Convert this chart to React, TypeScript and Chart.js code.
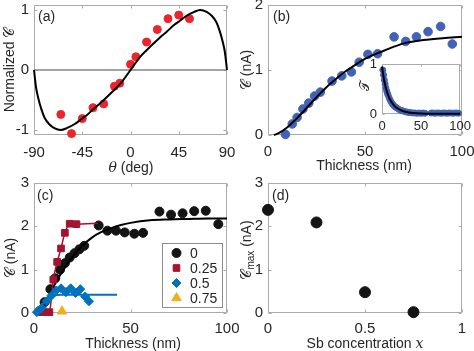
import React, { useEffect, useRef } from 'react';
import { Chart, registerables } from 'chart.js';
import { drawPoint } from 'chart.js/helpers';

Chart.register(...registerables);

if (typeof document !== 'undefined') document.body.style.margin = '0';

const FONT = '"Liberation Sans", Arial, Helvetica, sans-serif';
const SERIF = '"DejaVu Serif", "Liberation Serif", serif';
const TEXT = '#262626';
const AXIS = '#aaaaaa';
const RED = '#ea262c';
const BLUE_B = '#4262b5';
const BLACK = '#141414';
const DARKRED = '#a2142f';
const MBLUE = '#0072bd';
const YELLOW = '#edb120';

// ---------- Panel (a) ----------
const aTicksX = [-90, -45, 0, 45, 90];
const aTicksY = [-1, 0, 1];
const aThetaDots = [-65, -55, -45, -35, -25, -15, -10, 0, 5, 15, 25, 35, 45, 55];
const aNormDots = [-0.74, -1.06, -0.81, -0.63, -0.565, -0.27, -0.22, 0.095, 0.22, 0.465, 0.675, 0.855, 0.915, 0.855];
const aThetaFit = [-90, -88, -86, -83, -80, -76, -71, -65, -59, -52, -46, -40, -34, -28, -22, -15, -9, -3, 0, 3, 9, 15, 22, 28, 34, 40, 46, 52, 59, 65, 71, 76, 80, 83, 86, 88, 90];
const aNormFit = [0, -0.3, -0.47, -0.66, -0.8, -0.9, -0.97, -1.0, -0.965, -0.9, -0.82, -0.74, -0.64, -0.55, -0.45, -0.33, -0.22, -0.075, 0, 0.075, 0.22, 0.33, 0.45, 0.55, 0.64, 0.74, 0.82, 0.9, 0.965, 1.0, 0.97, 0.9, 0.8, 0.66, 0.47, 0.3, 0];
const aZeroX = [-90, 90];
const aZeroY = [0, 0];

// ---------- Panel (b) ----------
const bTicksX = [0, 50, 100];
const bTicksY = [0, 1, 2];
const bThick = [9, 12.5, 15, 18, 21, 24, 27, 33, 38, 43, 47, 51.5, 56.5, 65, 71, 76.5, 82.5, 89, 95];
const bCurrent = [0.01, 0.17, 0.27, 0.4, 0.49, 0.6, 0.66, 0.83, 0.91, 0.97, 1.12, 1.24, 1.25, 1.51, 1.44, 1.51, 1.59, 1.67, 1.4];
const bThickFit = [3, 5, 10, 15, 20, 25, 30, 35, 40, 45, 50, 55, 60, 70, 80, 90, 100];
const bCurrentFit = [0, 0.02, 0.12, 0.26, 0.42, 0.58, 0.73, 0.86, 0.98, 1.08, 1.17, 1.24, 1.3, 1.41, 1.46, 1.49, 1.51];

// ---------- Inset of (b) ----------
const iTicksX = [0, 50, 100];
const iTicksY = [0, 1];
const iThick = [1, 2, 3, 4, 5, 6, 7, 8, 9.5, 11, 12.5, 14, 15.5, 17, 19, 21, 23, 25, 27, 29, 31, 33, 35, 37.5, 40, 42.5, 45, 47.5, 50, 52.5, 55, 63, 65.5, 68, 70.5, 73, 75.5, 78, 80.5, 83, 85.5, 88, 90.5, 93, 95.5, 98];
const iTrans = [0.88, 0.78, 0.68, 0.6, 0.52, 0.46, 0.41, 0.37, 0.31, 0.26, 0.22, 0.19, 0.16, 0.14, 0.12, 0.1, 0.08, 0.07, 0.06, 0.05, 0.04, 0.035, 0.03, 0.025, 0.02, 0.02, 0.015, 0.02, 0.015, 0.02, 0.015, 0.02, 0.02, 0.015, 0.02, 0.02, 0.015, 0.02, 0.02, 0.015, 0.02, 0.02, 0.015, 0.02, 0.02, 0.015];
const iThickFit = [0, 2, 4, 6, 8, 10, 13, 16, 20, 25, 30, 40, 50, 70, 100];
const iTransFit = [0.95, 0.74, 0.58, 0.46, 0.37, 0.3, 0.22, 0.16, 0.11, 0.07, 0.045, 0.02, 0.01, 0.005, 0.003];

// ---------- Panel (c) ----------
const cTicksX = [0, 50, 100];
const cTicksY = [0, 1, 2, 3];
const cLegendLabels = ['0', '0.25', '0.5', '0.75'];
const cThick0 = [3, 5.5, 8.5, 11, 13.5, 16, 18.5, 21, 23.5, 26, 33.5, 38, 42.5, 47, 52, 56.5, 65, 71, 77, 83, 89, 95.5];
const cCurrent0 = [0.05, 0.25, 0.55, 0.8, 1.0, 1.15, 1.28, 1.38, 1.47, 1.55, 2.02, 1.9, 1.9, 1.86, 1.83, 1.85, 2.34, 2.27, 2.3, 2.35, 2.36, 2.05];
const cThick0Fit = [3, 5, 8, 11, 15, 20, 25, 30, 35, 40, 45, 50, 60, 70, 80, 90, 100];
const cCurrent0Fit = [0, 0.15, 0.42, 0.68, 0.98, 1.3, 1.55, 1.74, 1.87, 1.96, 2.03, 2.08, 2.14, 2.16, 2.17, 2.18, 2.18];
const cThick25 = [5, 8, 10, 12, 14, 16, 18.5, 22];
const cCurrent25 = [0.02, 0.02, 0.77, 1.18, 1.49, 1.85, 2.06, 2.05];
const cThick25Line = [5, 8, 10, 12, 14, 16, 18.5, 22, 33];
const cCurrent25Line = [0.02, 0.02, 0.77, 1.18, 1.49, 1.85, 2.06, 2.05, 2.07];
const cThick50 = [1.5, 4, 6.5, 9, 11.5, 14, 16.5, 19, 21.5, 24, 26.5, 28.5];
const cCurrent50 = [0.02, 0.12, 0.27, 0.4, 0.52, 0.57, 0.48, 0.57, 0.46, 0.55, 0.38, 0.27];
const cThick50Fit = [1, 4, 7, 10, 14, 43];
const cCurrent50Fit = [0, 0.18, 0.33, 0.4, 0.42, 0.42];
const cThick75 = [14.5];
const cCurrent75 = [0.04];

// ---------- Panel (d) ----------
const dTicksX = [0, 0.5, 1];
const dTicksY = [0, 1, 2, 3];
const dSb = [0, 0.25, 0.5, 0.75];
const dCmax = [2.38, 2.09, 0.48, 0.02];

const zip = (xs: number[], ys: number[]) => xs.map((x, i) => ({ x, y: ys[i] }));

type Rect = { l: number; t: number; r: number; b: number };
type Seg = { t: string; it?: boolean; sub?: boolean; serif?: boolean };
type TextItem = { x: number; y: number; segs: Seg[]; size?: number; rot?: boolean; align?: 'left' | 'center' };
type LegendSpec = {
  box: Rect; rows: number[]; markerX: number; textX: number;
  items: { label: string; style: string; color: string; radius: number }[];
};
type PanelSpec = {
  key: string; canvasLeft: number; canvasTop: number; area: Rect;
  padR: number; padB: number; padT: number;
  xMin: number; xMax: number; yMin: number; yMax: number;
  xTicks: number[]; yTicks: number[]; tickSize: number; xPad: number; yPad: number;
  datasets: any[]; texts: TextItem[]; legend?: LegendSpec; white?: boolean; tickLen: number;
};

function drawRich(ctx: CanvasRenderingContext2D, it: TextItem, ox: number, oy: number) {
  const size = it.size ?? 14;
  ctx.save();
  ctx.translate(it.x - ox, it.y - oy);
  if (it.rot) ctx.rotate(-Math.PI / 2);
  const fonts = it.segs.map(s => {
    const sz = s.sub ? Math.round(size * 0.72) : size;
    const fam = s.serif ? SERIF : FONT;
    return `${s.it ? 'italic ' : ''}${sz}px ${fam}`;
  });
  const widths = it.segs.map((s, i) => { ctx.font = fonts[i]; return ctx.measureText(s.t).width; });
  const total = widths.reduce((a, b) => a + b, 0);
  let cx = it.align === 'left' ? 0 : -total / 2;
  const base = size * 0.36;
  ctx.fillStyle = TEXT;
  ctx.textBaseline = 'alphabetic';
  ctx.textAlign = 'left';
  it.segs.forEach((s, i) => {
    ctx.font = fonts[i];
    ctx.fillText(s.t, cx, s.sub ? base + size * 0.25 : base);
    cx += widths[i];
  });
  ctx.restore();
}

function makePlugins(s: PanelSpec) {
  return [{
    id: 'frame_' + s.key,
    beforeDraw(chart: any) {
      if (!s.white) return;
      const { ctx, chartArea: a } = chart;
      ctx.save();
      ctx.fillStyle = '#ffffff';
      ctx.fillRect(a.left, a.top, a.right - a.left, a.bottom - a.top);
      ctx.restore();
    },
    beforeDatasetsDraw(chart: any) {
      const { ctx, chartArea: a, scales } = chart;
      const L = Math.round(a.left) + 0.5, R = Math.round(a.right) - 0.5;
      const T = Math.round(a.top) + 0.5, B = Math.round(a.bottom) - 0.5;
      ctx.save();
      ctx.strokeStyle = AXIS;
      ctx.lineWidth = 1;
      ctx.beginPath();
      ctx.rect(L, T, R - L, B - T);
      const tl = s.tickLen;
      for (const t of s.xTicks) {
        const px = Math.round(scales.x.getPixelForValue(t)) + 0.5;
        ctx.moveTo(px, B); ctx.lineTo(px, B - tl);
        ctx.moveTo(px, T); ctx.lineTo(px, T + tl);
      }
      for (const t of s.yTicks) {
        const py = Math.round(scales.y.getPixelForValue(t)) + 0.5;
        ctx.moveTo(L, py); ctx.lineTo(L + tl, py);
        ctx.moveTo(R, py); ctx.lineTo(R - tl, py);
      }
      ctx.stroke();
      ctx.restore();
    },
    afterDraw(chart: any) {
      const ctx = chart.ctx as CanvasRenderingContext2D;
      const ox = s.canvasLeft, oy = s.canvasTop;
      if (s.legend) {
        const lg = s.legend;
        ctx.save();
        ctx.fillStyle = '#ffffff';
        ctx.strokeStyle = '#8c8c8c';
        ctx.lineWidth = 1;
        ctx.fillRect(lg.box.l - ox, lg.box.t - oy, lg.box.r - lg.box.l, lg.box.b - lg.box.t);
        ctx.strokeRect(lg.box.l - ox + 0.5, lg.box.t - oy + 0.5, lg.box.r - lg.box.l, lg.box.b - lg.box.t);
        lg.items.forEach((item, i) => {
          ctx.fillStyle = item.color;
          ctx.strokeStyle = item.color;
          ctx.lineWidth = 1;
          drawPoint(ctx, { pointStyle: item.style as any, rotation: 0, radius: item.radius, borderWidth: 1 }, lg.markerX - ox, lg.rows[i] - oy);
        });
        ctx.restore();
        lg.items.forEach((item, i) => drawRich(ctx, { x: lg.textX, y: lg.rows[i], segs: [{ t: item.label }], align: 'left', size: 14 }, ox, oy));
      }
      s.texts.forEach(t => drawRich(ctx, t, ox, oy));
    },
  }];
}

function canvasSize(s: PanelSpec) {
  return { w: s.area.r + s.padR - s.canvasLeft, h: s.area.b + s.padB - s.canvasTop };
}

function buildConfig(s: PanelSpec): any {
  const { w, h } = canvasSize(s);
  const tickFont = { family: FONT, size: s.tickSize };
  return {
    type: 'scatter',
    data: { datasets: s.datasets },
    options: {
      responsive: false,
      animation: false,
      events: [],
      layout: { padding: { left: 0, top: s.area.t - s.canvasTop, right: s.padR, bottom: 0 } },
      plugins: { legend: { display: false }, tooltip: { enabled: false } },
      scales: {
        x: {
          type: 'linear', position: 'bottom', min: s.xMin, max: s.xMax,
          grid: { display: false, drawTicks: false }, border: { display: false },
          ticks: { font: tickFont, color: TEXT, padding: s.xPad, maxRotation: 0, autoSkip: false, callback: (v: number) => String(v) },
          afterBuildTicks: (ax: any) => { ax.ticks = s.xTicks.map(v => ({ value: v })); },
          afterFit: (ax: any) => { ax.height = s.canvasTop + h - s.area.b; },
        },
        y: {
          type: 'linear', position: 'left', min: s.yMin, max: s.yMax,
          grid: { display: false, drawTicks: false }, border: { display: false },
          ticks: { font: tickFont, color: TEXT, padding: s.yPad, autoSkip: false, callback: (v: number) => String(v) },
          afterBuildTicks: (ax: any) => { ax.ticks = s.yTicks.map(v => ({ value: v })); },
          afterFit: (ax: any) => { ax.width = s.area.l - s.canvasLeft; },
        },
      },
    },
    plugins: makePlugins(s),
  };
}

const lineDs = (xs: number[], ys: number[], color: string, width: number, order: number) => ({
  data: zip(xs, ys), showLine: true, borderColor: color, borderWidth: width, pointRadius: 0,
  cubicInterpolationMode: 'monotone', order, clip: false,
});
const dotDs = (xs: number[], ys: number[], color: string, radius: number, style: string, order: number) => ({
  data: zip(xs, ys), showLine: false, pointStyle: style, pointRadius: radius,
  pointBackgroundColor: color, pointBorderColor: color, pointBorderWidth: 1, order, clip: false,
});

const specs: PanelSpec[] = [
  {
    key: 'a', canvasLeft: 0, canvasTop: -20, area: { l: 34, t: 5, r: 227, b: 135 }, padR: 25, padB: 45, padT: 25,
    xMin: -90, xMax: 90, yMin: -1.083, yMax: 1.083, xTicks: aTicksX, yTicks: aTicksY, tickSize: 15, xPad: 9, yPad: 5, tickLen: 3,
    datasets: [
      lineDs(aThetaFit, aNormFit, '#000000', 2, 1),
      dotDs(aThetaDots, aNormDots, RED, 4, 'circle', 2),
      { ...lineDs(aZeroX, aZeroY, '#858585', 1.5, 3), cubicInterpolationMode: 'default' },
    ],
    texts: [
      { x: 9, y: 70, rot: true, segs: [{ t: 'Normalized ' }, { t: '𝒞' }] },
      { x: 131, y: 167, segs: [{ t: 'θ', it: true, serif: true }, { t: ' (deg)' }] },
      { x: 38, y: 16, align: 'left', segs: [{ t: '(a)' }] },
    ],
  },
  {
    key: 'b', canvasLeft: 237, canvasTop: -20, area: { l: 268, t: 5, r: 462, b: 135 }, padR: 25, padB: 45, padT: 25,
    xMin: 0, xMax: 100, yMin: 0, yMax: 2, xTicks: bTicksX, yTicks: bTicksY, tickSize: 15, xPad: 8, yPad: 5, tickLen: 3,
    datasets: [
      lineDs(bThickFit, bCurrentFit, '#000000', 2, 1),
      dotDs(bThick, bCurrent, BLUE_B, 4.3, 'circle', 2),
    ],
    texts: [
      { x: 246, y: 70, rot: true, segs: [{ t: '𝒞' }, { t: ' (nA)' }] },
      { x: 364, y: 165, segs: [{ t: 'Thickness (nm)' }] },
      { x: 273, y: 16, align: 'left', segs: [{ t: '(b)' }] },
    ],
  },
  {
    key: 'i', canvasLeft: 358, canvasTop: 44, area: { l: 382, t: 64, r: 462, b: 114 }, padR: 14, padB: 20, padT: 20,
    xMin: 0, xMax: 100, yMin: 0, yMax: 1, xTicks: iTicksX, yTicks: iTicksY, tickSize: 13, xPad: 5, yPad: 5, tickLen: 2, white: true,
    datasets: [
      lineDs(iThickFit, iTransFit, '#000000', 2, 1),
      dotDs(iThick, iTrans, BLUE_B, 3, 'circle', 2),
    ],
    texts: [
      { x: 364.5, y: 86, rot: true, size: 13, segs: [{ t: '𝒯' }] },
    ],
  },
  {
    key: 'c', canvasLeft: 0, canvasTop: 158, area: { l: 34, t: 183, r: 227, b: 313 }, padR: 25, padB: 45, padT: 25,
    xMin: 0, xMax: 100, yMin: 0, yMax: 3, xTicks: cTicksX, yTicks: cTicksY, tickSize: 15, xPad: 7, yPad: 5, tickLen: 3,
    datasets: [
      dotDs(cThick0, cCurrent0, BLACK, 4.5, 'circle', 7),
      lineDs(cThick0Fit, cCurrent0Fit, '#000000', 2, 6),
      { ...lineDs(cThick25Line, cCurrent25Line, DARKRED, 1.5, 5), cubicInterpolationMode: 'default', tension: 0.2 },
      dotDs(cThick25, cCurrent25, DARKRED, 4.7, 'rect', 4),
      lineDs(cThick50Fit, cCurrent50Fit, MBLUE, 2, 3),
      dotDs(cThick50, cCurrent50, MBLUE, 4.5, 'rectRot', 2),
      dotDs(cThick75, cCurrent75, YELLOW, 5.5, 'triangle', 1),
    ],
    legend: {
      box: { l: 162, t: 243, r: 222, b: 307 }, rows: [253, 268, 283, 298], markerX: 176.5, textX: 190,
      items: [
        { label: cLegendLabels[0], style: 'circle', color: BLACK, radius: 4.5 },
        { label: cLegendLabels[1], style: 'rect', color: DARKRED, radius: 4.7 },
        { label: cLegendLabels[2], style: 'rectRot', color: MBLUE, radius: 4.5 },
        { label: cLegendLabels[3], style: 'triangle', color: YELLOW, radius: 5.5 },
      ],
    },
    texts: [
      { x: 10, y: 258, rot: true, segs: [{ t: '𝒞' }, { t: ' (nA)' }] },
      { x: 133, y: 343, segs: [{ t: 'Thickness (nm)' }] },
      { x: 37, y: 195, align: 'left', segs: [{ t: '(c)' }] },
    ],
  },
  {
    key: 'd', canvasLeft: 237, canvasTop: 158, area: { l: 268, t: 183, r: 462, b: 313 }, padR: 25, padB: 45, padT: 25,
    xMin: 0, xMax: 1, yMin: 0, yMax: 3, xTicks: dTicksX, yTicks: dTicksY, tickSize: 15, xPad: 7, yPad: 5, tickLen: 3,
    datasets: [
      dotDs(dSb, dCmax, BLACK, 5.5, 'circle', 1),
    ],
    texts: [
      { x: 245.5, y: 250, rot: true, segs: [{ t: '𝒞' }, { t: 'max', sub: true }, { t: ' (nA)' }] },
      { x: 365, y: 343, segs: [{ t: 'Sb concentration ' }, { t: 'x', it: true, serif: true }] },
      { x: 272, y: 195, align: 'left', segs: [{ t: '(d)' }] },
    ],
  },
];

function Panel({ spec }: { spec: PanelSpec }) {
  const ref = useRef<HTMLCanvasElement | null>(null);
  const { w, h } = canvasSize(spec);
  useEffect(() => {
    if (!ref.current) return;
    const chart = new Chart(ref.current, buildConfig(spec));
    return () => chart.destroy();
  }, []);
  return (
    <canvas
      ref={ref}
      width={w}
      height={h}
      style={{ position: 'absolute', left: spec.canvasLeft, top: spec.canvasTop, width: w, height: h }}
    />
  );
}

export default function App() {
  useEffect(() => { document.body.style.margin = '0'; }, []);
  return (
    <div style={{ position: 'relative', width: 474, height: 351, overflow: 'hidden', background: '#ffffff' }}>
      {specs.map(s => <Panel key={s.key} spec={s} />)}
    </div>
  );
}
